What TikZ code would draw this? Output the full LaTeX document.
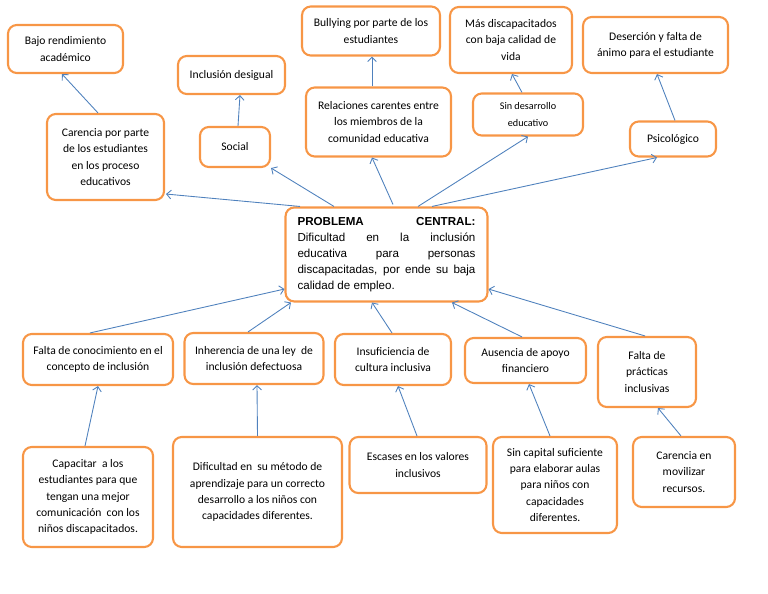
\documentclass[tikz,border=0pt]{standalone}
\usepackage{fontspec}
\setmainfont{Carlito}
\newfontfamily\arialfont{Liberation Sans}
\usetikzlibrary{arrows.meta, calc}
\definecolor{boxorange}{HTML}{F79646}
\definecolor{linkblue}{HTML}{4F81BD}

\begin{document}
\begin{tikzpicture}[x=0.02cm, y=-0.02cm,
    box/.style={draw=boxorange, line width=1.2pt, rounded corners=5pt, align=center, inner sep=1pt, font=\fontsize{6.6}{9.2}\selectfont},
    link/.style={linkblue, line width=0.5pt, -{Straight Barb[length=2.5pt, width=5pt]}}]
  \useasboundingbox (0,0) rectangle (768,594);
  % central problem
  \node[box, minimum width=4.04cm, minimum height=1.88cm, text width=3.56cm, align=justify,
    font=\arialfont\fontsize{6.6}{9.1}\selectfont] (central) at (386.5,254.5)
    {\hyphenpenalty=10000\hbadness=10000\textbf{PROBLEMA CENTRAL:}\linebreak Dificultad en la inclusión\linebreak educativa para personas\linebreak discapacitadas, por ende su baja\linebreak calidad de empleo.};
  % effects (top)
  \node[box, minimum width=2.3cm, minimum height=0.96cm] (bajo) at (65.5,49) {Bajo rendimiento\\académico};
  \node[box, minimum width=2.34cm, minimum height=1.72cm] (carencia) at (105.5,157) {Carencia por parte\\de los estudiantes\\en los proceso\\educativos};
  \node[box, minimum width=2.14cm, minimum height=0.76cm] (desigual) at (231.5,75) {Inclusión desigual};
  \node[box, minimum width=1.4cm, minimum height=0.8cm] (social) at (235,147) {Social};
  \node[box, minimum width=2.76cm, minimum height=0.98cm] (bullying) at (371,31) {Bullying por parte de los\\estudiantes};
  \node[box, minimum width=2.9cm, minimum height=1.38cm] (relaciones) at (378.5,122) {Relaciones carentes entre\\los miembros de la\\comunidad educativa};
  \node[box, minimum width=2.44cm, minimum height=1.32cm] (masdisc) at (511,40) {Más discapacitados\\con baja calidad de\\vida};
  \node[box, minimum width=2.2cm, minimum height=0.84cm, font=\fontsize{5.8}{9.5}\selectfont] (sindes) at (528,114.5) {Sin desarrollo\\educativo};
  \node[box, minimum width=2.9cm, minimum height=1.12cm] (desercion) at (655.5,45) {Deserción y falta de\\ánimo para el estudiante};
  \node[box, minimum width=1.72cm, minimum height=0.7cm] (psico) at (673,139) {Psicológico};
  % causes (bottom)
  \node[box, minimum width=3.0cm, minimum height=1.02cm] (faltacon) at (98,359.5) {Falta de conocimiento en el\\concepto de inclusión};
  \node[box, minimum width=2.78cm, minimum height=1.02cm] (inherencia) at (254,358.5) {Inherencia de una ley\ \ de\\inclusión defectuosa};
  \node[box, minimum width=2.32cm, minimum height=1.02cm] (insuf) at (393,359.5) {Insuficiencia de\\cultura inclusiva};
  \node[box, minimum width=2.42cm, minimum height=0.9cm] (ausencia) at (525.5,360.5) {Ausencia de apoyo\\financiero};
  \node[box, minimum width=1.96cm, minimum height=1.4cm] (faltaprac) at (647,372) {Falta de\\prácticas\\inclusivas};
  \node[box, minimum width=2.6cm, minimum height=2.0cm] (capacitar) at (88,497) {Capacitar\ \ a los\\estudiantes para que\\tengan una mejor\\comunicación\ \ con los\\niños discapacitados.};
  \node[box, minimum width=3.38cm, minimum height=2.2cm] (dificultad) at (257.5,492) {Dificultad en\ \ su método de\\aprendizaje para un correcto\\desarrollo a los niños con\\capacidades diferentes.};
  \node[box, minimum width=2.74cm, minimum height=1.12cm] (escases) at (418,465) {Escases en los valores\\inclusivos};
  \node[box, minimum width=2.48cm, minimum height=1.92cm] (sincap) at (555,485) {Sin capital suficiente\\para elaborar aulas\\para niños con\\capacidades\\diferentes.};
  \node[box, minimum width=2.04cm, minimum height=1.4cm] (carmov) at (684,472) {Carencia en\\movilizar\\recursos.};
  % central to effects
  \draw[link] ($(central.north)+(-86.5,0)$) -- ($(carencia.south east)+(1,-7)$);
  \draw[link] ($(central.north)+(-52.5,0)$) -- (social.south east);
  \draw[link] ($(central.north)+(6.5,-2)$) -- ($(relaciones.south)+(-6.5,0)$);
  \draw[link] ($(central.north)+(31.5,0)$) -- (sindes.south);
  \draw[link] ($(central.north)+(45.5,0)$) -- ($(psico.south)+(-16,0)$);
  \draw[link] ($(carencia.north)+(-7.5,0)$) -- ($(bajo.south)+(-3.5,0)$);
  \draw[link] ($(social.north)+(3,0)$) -- ($(desigual.south)+(8.5,0)$);
  \draw[link] ($(relaciones.north)+(-6.5,0)$) -- ($(bullying.south)+(1,0)$);
  \draw[link] ($(sindes.north)+(-6,0)$) -- ($(masdisc.south)+(1,0)$);
  \draw[link] ($(psico.north)+(2,0)$) -- ($(desercion.south)+(1.5,0)$);
  % causes to central
  \draw[link] ($(faltacon.north)+(-8,0)$) -- ($(central.south west)+(0,-13.5)$);
  \draw[link] ($(inherencia.north)+(-6,0)$) -- ($(central.south west)+(6.5,0)$);
  \draw[link] ($(insuf.north)+(-1,0)$) -- ($(central.south)+(-14.5,0)$);
  \draw[link] ($(ausencia.north)+(-3.5,0)$) -- ($(central.south)+(65.5,0)$);
  \draw[link] ($(faltaprac.north)+(-2,0)$) -- ($(central.south east)+(0,-13.5)$);
  \draw[link] ($(capacitar.north)+(-3,0)$) -- (faltacon.south);
  \draw[link] (dificultad.north) -- ($(inherencia.south)+(3,0)$);
  \draw[link] ($(escases.north)+(-1,0)$) -- ($(insuf.south)+(5,0)$);
  \draw[link] ($(sincap.north)+(-5,0)$) -- ($(ausencia.south)+(3.5,0)$);
  \draw[link] ($(carmov.north)+(-3,0)$) -- ($(faltaprac.south)+(11,0)$);
\end{tikzpicture}
\end{document}
